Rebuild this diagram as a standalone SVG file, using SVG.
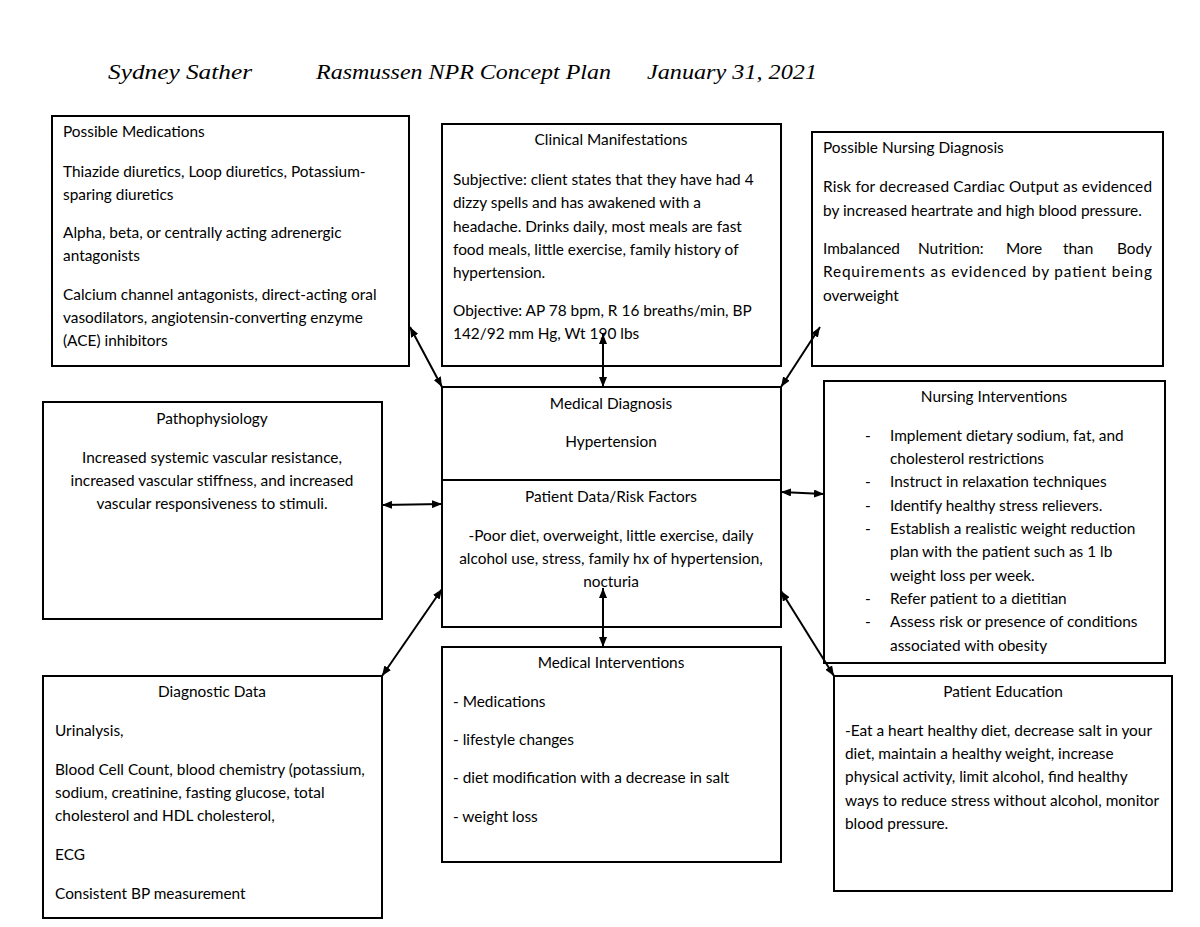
<svg xmlns="http://www.w3.org/2000/svg" width="1200" height="927" viewBox="0 0 1200 927">
<style>
.box{fill:#fff;stroke:#000;stroke-width:2}
.t{font-family:Lato,"Liberation Sans",sans-serif;font-size:15.4px;fill:#000}
.c{text-anchor:middle}
.h{font-family:"Liberation Serif",serif;font-style:italic;font-size:22px;fill:#000}
.ln{stroke:#000;stroke-width:2;fill:none;marker-start:url(#ah);marker-end:url(#ah)}
</style>
<defs>
<marker id="ah" viewBox="0 0 10 8" refX="10" refY="4" markerWidth="10" markerHeight="8" markerUnits="userSpaceOnUse" orient="auto-start-reverse">
<path d="M0,0 L10,4 L0,8 z" fill="#000"/>
</marker>
</defs>
<rect width="1200" height="927" fill="#fff"/>
<g id="header">
<text class="h" x="108" y="79" textLength="144" lengthAdjust="spacingAndGlyphs">Sydney Sather</text>
<text class="h" x="316" y="79" textLength="295" lengthAdjust="spacingAndGlyphs">Rasmussen NPR Concept Plan</text>
<text class="h" x="647" y="79" textLength="170" lengthAdjust="spacingAndGlyphs">January 31, 2021</text>
</g>
<g id="possible-medications">
<rect class="box" x="52" y="116" width="357" height="250"/>
<text class="t" x="63" y="137">Possible Medications</text>
<text class="t" x="63" y="177">Thiazide diuretics, Loop diuretics, Potassium-</text>
<text class="t" x="63" y="200">sparing diuretics</text>
<text class="t" x="63" y="238">Alpha, beta, or centrally acting adrenergic</text>
<text class="t" x="63" y="261">antagonists</text>
<text class="t" x="63" y="300">Calcium channel antagonists, direct-acting oral</text>
<text class="t" x="63" y="323">vasodilators, angiotensin-converting enzyme</text>
<text class="t" x="63" y="346">(ACE) inhibitors</text>
</g>
<g id="clinical-manifestations">
<rect class="box" x="442" y="124" width="339" height="242"/>
<text class="t c" x="611" y="145">Clinical Manifestations</text>
<text class="t" x="453" y="185">Subjective: client states that they have had 4</text>
<text class="t" x="453" y="208">dizzy spells and has awakened with a</text>
<text class="t" x="453" y="232">headache. Drinks daily, most meals are fast</text>
<text class="t" x="453" y="255">food meals, little exercise, family history of</text>
<text class="t" x="453" y="278">hypertension.</text>
<text class="t" x="453" y="316">Objective: AP 78 bpm, R 16 breaths/min, BP</text>
<text class="t" x="453" y="339">142/92 mm Hg, Wt 190 lbs</text>
</g>
<g id="nursing-diagnosis">
<rect class="box" x="812" y="132" width="351" height="234"/>
<text class="t" x="823" y="153">Possible Nursing Diagnosis</text>
<text class="t" x="823" y="192" textLength="329" lengthAdjust="spacing">Risk for decreased Cardiac Output as evidenced</text>
<text class="t" x="823" y="216">by increased heartrate and high blood pressure.</text>
<text class="t" x="823" y="254">Imbalanced</text>
<text class="t" x="918" y="254">Nutrition:</text>
<text class="t" x="1006" y="254">More</text>
<text class="t" x="1063" y="254">than</text>
<text class="t" x="1152" y="254" text-anchor="end">Body</text>
<text class="t" x="823" y="277" textLength="329" lengthAdjust="spacing">Requirements as evidenced by patient being</text>
<text class="t" x="823" y="301">overweight</text>
</g>
<g id="pathophysiology">
<rect class="box" x="43" y="402" width="339" height="217"/>
<text class="t c" x="212" y="424">Pathophysiology</text>
<text class="t c" x="212" y="463">Increased systemic vascular resistance,</text>
<text class="t c" x="212" y="486">increased vascular stiffness, and increased</text>
<text class="t c" x="212" y="509">vascular responsiveness to stimuli.</text>
</g>
<g id="medical-diagnosis">
<rect class="box" x="442" y="387" width="339" height="93"/>
<text class="t c" x="611" y="409">Medical Diagnosis</text>
<text class="t c" x="611" y="447">Hypertension</text>
</g>
<g id="patient-data">
<rect class="box" x="442" y="480" width="339" height="147"/>
<text class="t c" x="611" y="502">Patient Data/Risk Factors</text>
<text class="t c" x="611" y="541">-Poor diet, overweight, little exercise, daily</text>
<text class="t c" x="611" y="564">alcohol use, stress, family hx of hypertension,</text>
<text class="t c" x="611" y="587">nocturia</text>
</g>
<g id="nursing-interventions">
<rect class="box" x="824" y="381" width="341" height="282"/>
<text class="t c" x="994" y="402">Nursing Interventions</text>
<text class="t" x="865" y="441">-</text><text class="t" x="890" y="441">Implement dietary sodium, fat, and</text>
<text class="t" x="890" y="464">cholesterol restrictions</text>
<text class="t" x="865" y="487">-</text><text class="t" x="890" y="487">Instruct in relaxation techniques</text>
<text class="t" x="865" y="511">-</text><text class="t" x="890" y="511">Identify healthy stress relievers.</text>
<text class="t" x="865" y="534">-</text><text class="t" x="890" y="534">Establish a realistic weight reduction</text>
<text class="t" x="890" y="557">plan with the patient such as 1 lb</text>
<text class="t" x="890" y="581">weight loss per week.</text>
<text class="t" x="865" y="604">-</text><text class="t" x="890" y="604">Refer patient to a dietitian</text>
<text class="t" x="865" y="627">-</text><text class="t" x="890" y="627">Assess risk or presence of conditions</text>
<text class="t" x="890" y="651">associated with obesity</text>
</g>
<g id="diagnostic-data">
<rect class="box" x="43" y="676" width="339" height="242"/>
<text class="t c" x="212" y="697">Diagnostic Data</text>
<text class="t" x="55" y="736">Urinalysis,</text>
<text class="t" x="55" y="775">Blood Cell Count, blood chemistry (potassium,</text>
<text class="t" x="55" y="798">sodium, creatinine, fasting glucose, total</text>
<text class="t" x="55" y="821">cholesterol and HDL cholesterol,</text>
<text class="t" x="55" y="860">ECG</text>
<text class="t" x="55" y="899">Consistent BP measurement</text>
</g>
<g id="medical-interventions">
<rect class="box" x="442" y="647" width="339" height="215"/>
<text class="t c" x="611" y="668">Medical Interventions</text>
<text class="t" x="453" y="707">- Medications</text>
<text class="t" x="453" y="745">- lifestyle changes</text>
<text class="t" x="453" y="783">- diet modification with a decrease in salt</text>
<text class="t" x="453" y="822">- weight loss</text>
</g>
<g id="patient-education">
<rect class="box" x="834" y="676" width="338" height="215"/>
<text class="t c" x="1003" y="697">Patient Education</text>
<text class="t" x="845" y="736">-Eat a heart healthy diet, decrease salt in your</text>
<text class="t" x="845" y="759">diet, maintain a healthy weight, increase</text>
<text class="t" x="845" y="782">physical activity, limit alcohol, find healthy</text>
<text class="t" x="845" y="806">ways to reduce stress without alcohol, monitor</text>
<text class="t" x="845" y="829">blood pressure.</text>
</g>
<g id="connectors">
<line class="ln" x1="410" y1="327" x2="442" y2="387"/>
<line class="ln" x1="603" y1="334" x2="603" y2="387"/>
<line class="ln" x1="820" y1="327" x2="781" y2="387"/>
<line class="ln" x1="382" y1="505" x2="442" y2="504"/>
<line class="ln" x1="781" y1="492" x2="824" y2="494"/>
<line class="ln" x1="442" y1="589" x2="382" y2="676"/>
<line class="ln" x1="603" y1="588" x2="603" y2="647"/>
<line class="ln" x1="781" y1="591" x2="834" y2="676"/>
</g>
</svg>
